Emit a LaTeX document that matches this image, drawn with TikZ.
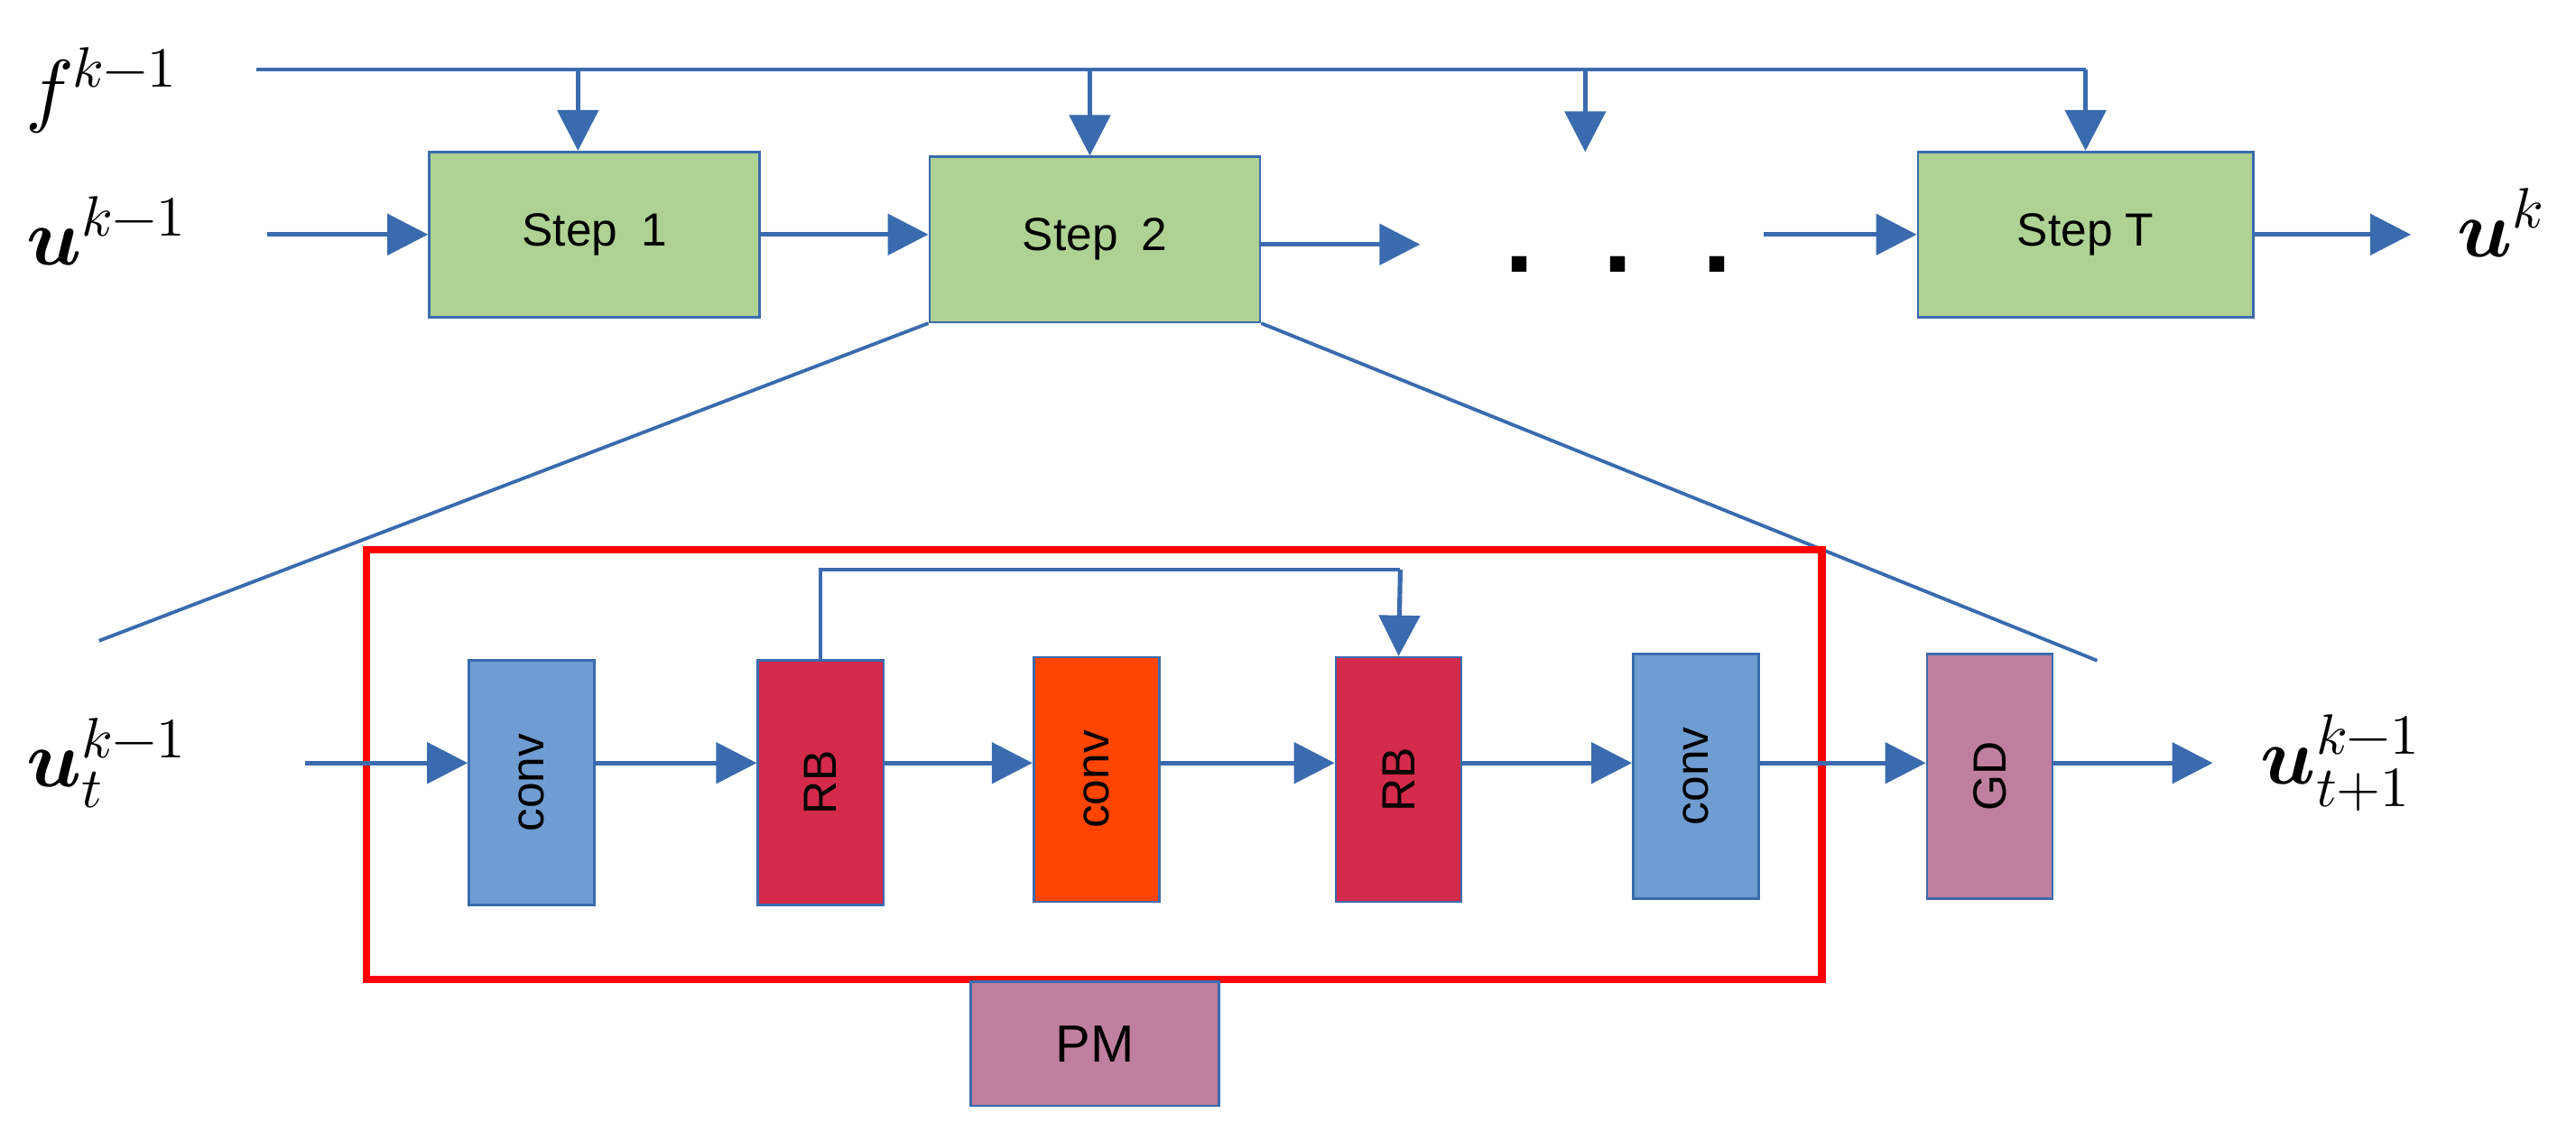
\documentclass[tikz,border=0pt]{standalone}
\usepackage{fontspec}
\setmainfont{Liberation Sans}
\usepackage{unicode-math}
\setmathfont{Latin Modern Math}
\usetikzlibrary{arrows.meta}
\definecolor{arr}{HTML}{3A6BAE}
\definecolor{stepg}{HTML}{AED293}
\definecolor{convb}{HTML}{6F9DD2}
\definecolor{rbc}{HTML}{D42A4B}
\definecolor{convo}{HTML}{FF4500}
\definecolor{pink}{HTML}{C07F9F}
\tikzset{
 x=0.01cm,y=-0.01cm,
 a/.style={draw=arr,line width=0.8pt,-{Triangle[length=7pt,width=7pt]}},
 ln/.style={draw=arr,line width=0.6pt},
 stepbox/.style={draw=arr,fill=stepg,minimum width=2cm,minimum height=1cm,font=\fontsize{8}{10}\selectfont,inner sep=0},
 vb/.style={draw=arr,minimum width=0.76cm,minimum height=1.48cm,inner sep=0},
 vt/.style={rotate=90,font=\fontsize{8}{10}\selectfont},
 m/.style={font=\fontsize{14}{16}\selectfont}
}
\begin{document}
\begin{tikzpicture}
\useasboundingbox (0,0) rectangle (1560,685);
\node[m] (f) at (62,55) {$f^{k-1}$};
\node[m] (u) at (65,140) {$\symbfit{u}^{k-1}$};
\node[stepbox] (s1) at (360,142) {Step\enspace 1};
\node[stepbox] (s2) at (663,145) {Step\enspace 2};
\node[stepbox,minimum width=2.03cm] (sT) at (1263,142) {Step T};
\node[font=\fontsize{18}{20}\selectfont\bfseries] (dots) at (980,160) {.\,\,\,\,.\,\,\,\,.};
\node[m] (uk) at (1515,135) {$\symbfit{u}^{k}$};
\coordinate (fs) at (155,42); \coordinate (fe) at (1263,42);
\coordinate (dt) at (960,92);
\draw[ln] (fs) -- (fe);
\draw[a] (350,42) -- (s1.north -| 350,0);
\draw[a] (660,42) -- (s2.north -| 660,0);
\draw[a] (960,42) -- (dt);
\draw[a] (fe) -- (sT.north -| fe);
\draw[a] (162,142) -- (s1.west);
\draw[a] (s1.east |- 142,142) -- (s2.west |- 142,142);
\coordinate (d1) at (860,148); \coordinate (d2) at (1068,142);
\draw[a] (s2.east |- d1) -- (d1);
\draw[a] (d2) -- (sT.west);
\draw[a] (sT.east) -- (1460,142);
\coordinate (z1) at (60,388); \coordinate (z2) at (1270,400);
\draw[ln] (s2.south west) -- (z1);
\draw[ln] (s2.south east) -- (z2);
\node[draw=red,line width=1.3pt,minimum width=8.81cm,minimum height=2.6cm] (pmbox) at (662.5,463) {};
\node[draw=arr,fill=pink,minimum width=1.5cm,minimum height=0.75cm,font=\fontsize{9}{11}\selectfont] (pm) at (663,632) {PM};
\node[m] (ut) at (65,462) {$\symbfit{u}_t^{k-1}$};
\node[vb,fill=convb] (c1) at (322,474) {}; \node[vt] at (c1) {conv};
\node[vb,fill=rbc] (r1) at (497,474) {}; \node[vt] at (r1) {RB};
\node[vb,fill=convo] (c2) at (664,472) {}; \node[vt] at (c2) {conv};
\node[vb,fill=rbc] (r2) at (847,472) {}; \node[vt] at (r2) {RB};
\node[vb,fill=convb] (c3) at (1027,470) {}; \node[vt] at (c3) {conv};
\node[vb,fill=pink] (gd) at (1205,470) {}; \node[vt] at (gd) {GD};
\node[m] (ut1) at (1418,462) {$\symbfit{u}_{t+1}^{k-1}$};
\coordinate (ui) at (185,462); \coordinate (uo) at (1340,462);
\draw[a] (ui) -- (c1.west |- ui);
\draw[a] (c1.east |- ui) -- (r1.west |- ui);
\draw[a] (r1.east |- ui) -- (c2.west |- ui);
\draw[a] (c2.east |- ui) -- (r2.west |- ui);
\draw[a] (r2.east |- ui) -- (c3.west |- ui);
\draw[a] (c3.east |- ui) -- (gd.west |- ui);
\draw[a] (gd.east |- ui) -- (uo);
\draw[ln] (r1.north) -- (497,345) coordinate (sk) -| (848,345);
\draw[a] (848,345) -- (r2.north);
\end{tikzpicture}
\end{document}
